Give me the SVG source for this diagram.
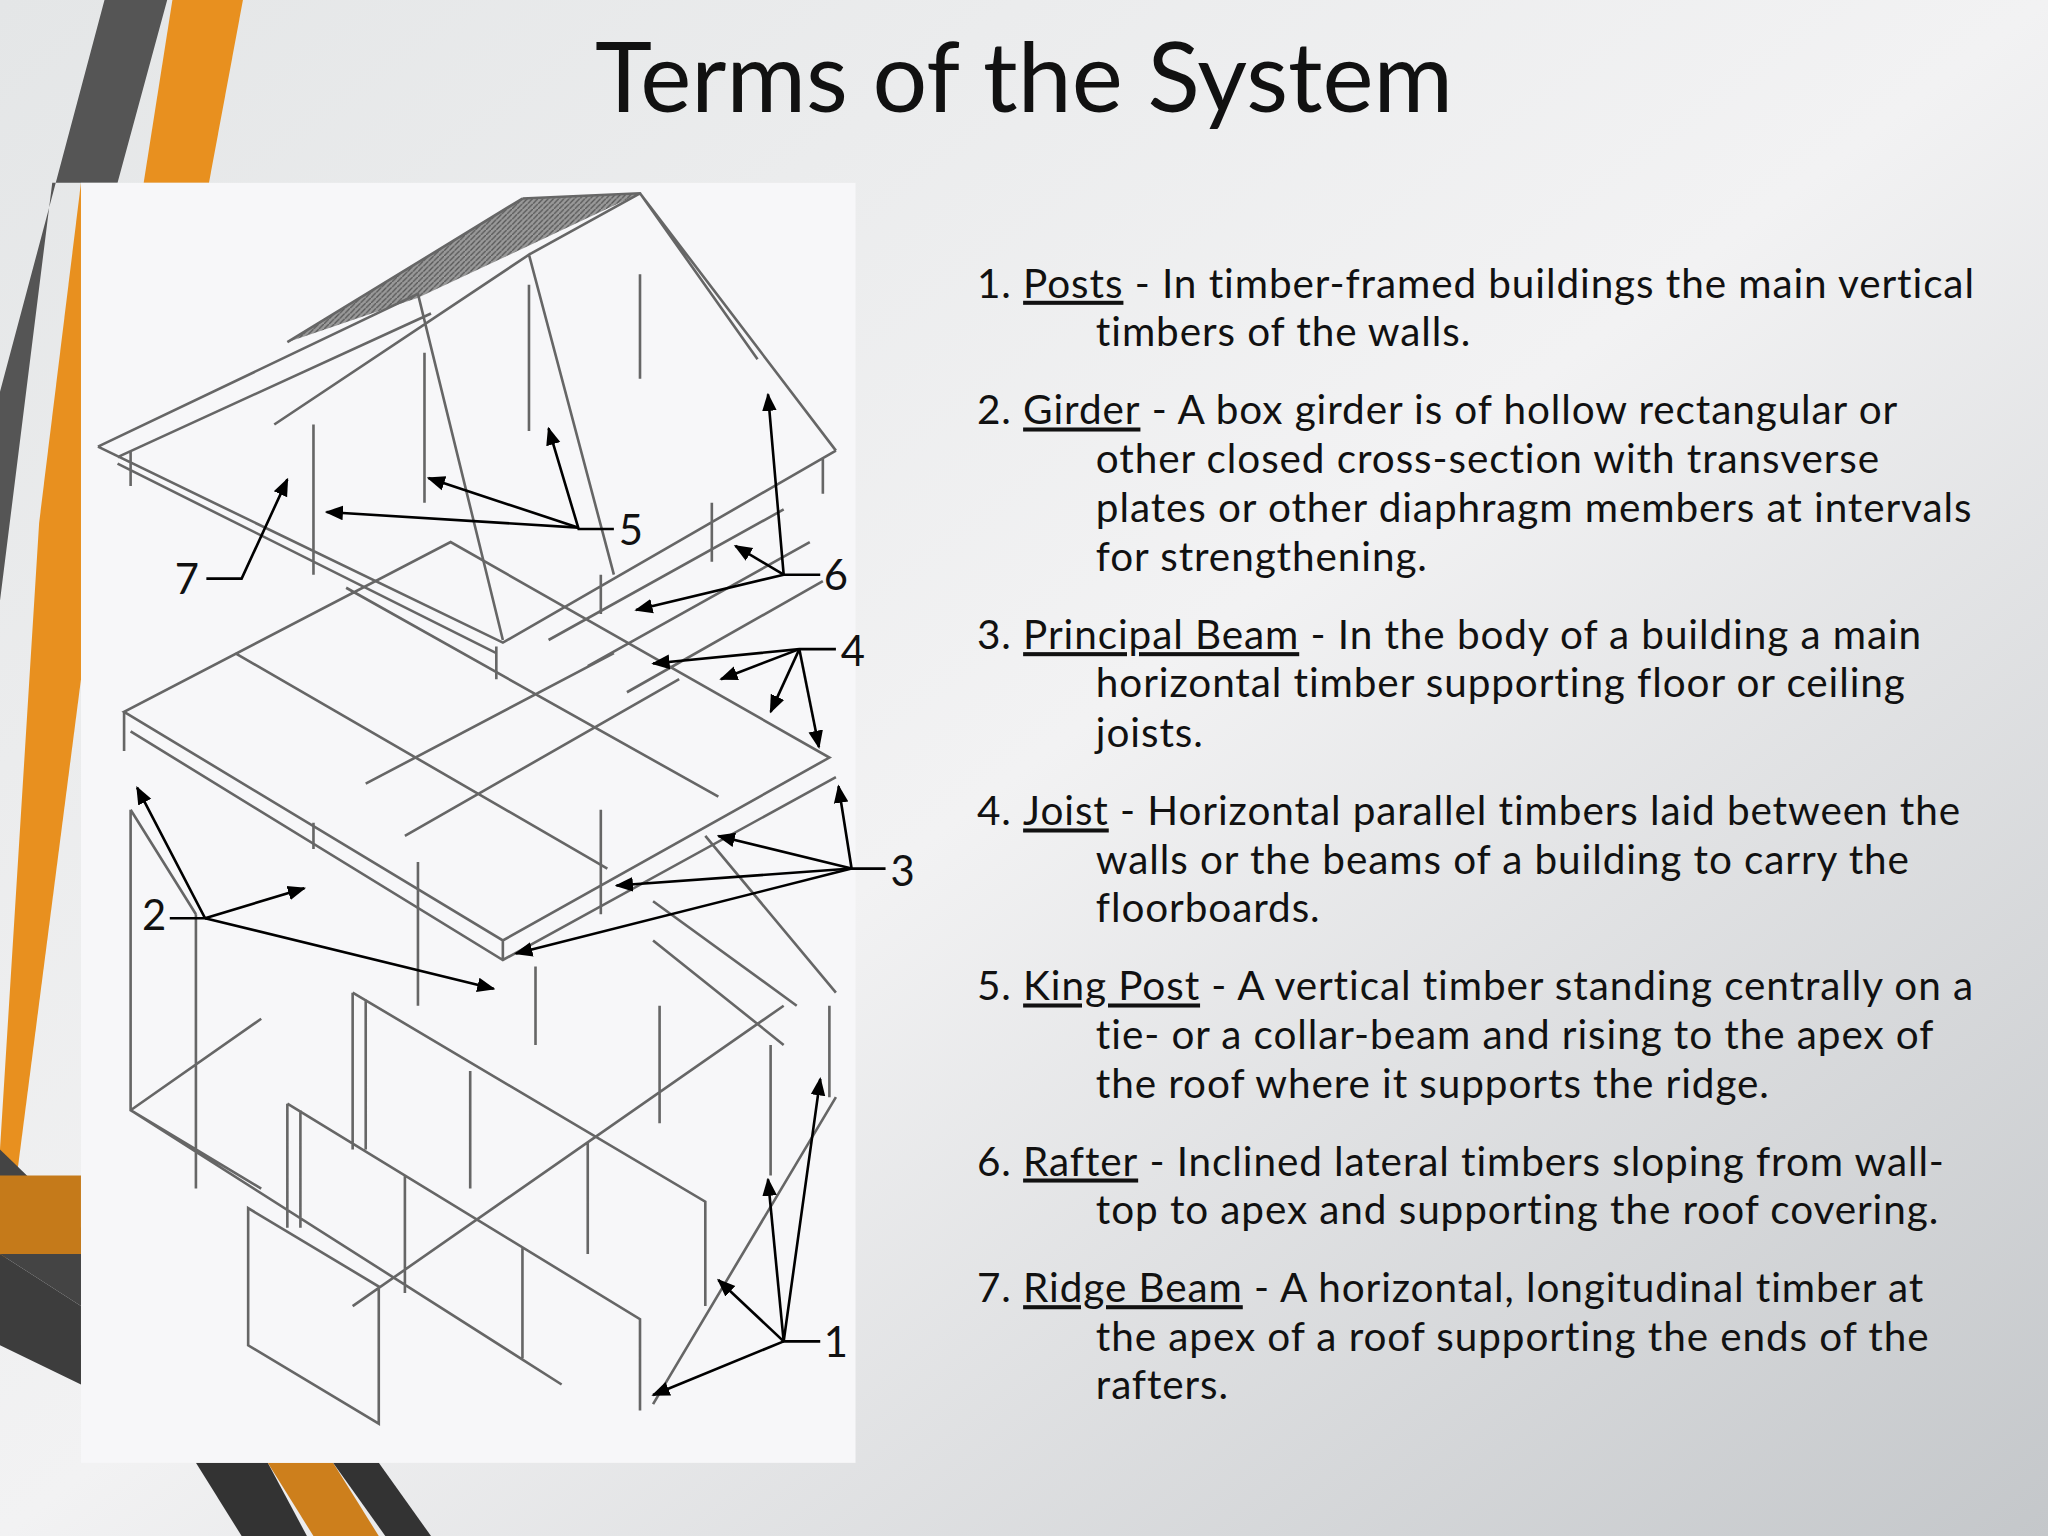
<svg xmlns="http://www.w3.org/2000/svg" width="2048" height="1536" viewBox="0 0 2048 1536">
<defs>
<linearGradient id="bg" x1="0" y1="0" x2="1" y2="1">
<stop offset="0" stop-color="#e4e6e7"/><stop offset="0.5" stop-color="#f2f2f3"/><stop offset="1" stop-color="#c4c7ca"/>
</linearGradient>
<marker id="ah" viewBox="0 0 10 10" refX="9" refY="5" markerWidth="7" markerHeight="7" orient="auto"><path d="M0,1 L10,5 L0,9 z" fill="#000"/></marker>
<pattern id="hatch" width="4" height="4" patternUnits="userSpaceOnUse"><rect width="4" height="4" fill="#999"/><path d="M0,4 L4,0" stroke="#555" stroke-width="1"/></pattern>
</defs>
<style>
.t{font-family:Lato,"Open Sans",sans-serif;font-size:31px;letter-spacing:0.7px;fill:#111}
.n{font-family:Lato,"Open Sans",sans-serif;font-size:32px;fill:#111}
.d{fill:none;stroke:#666;stroke-width:2}
.a{fill:none;stroke:#000;stroke-width:2}
</style>
<rect width="2048" height="1536" fill="url(#bg)"/>
<g transform="scale(1.30612)">
<g id="decor">
<polygon points="80,0 128,0 90,140 40,140 0,460 0,300" fill="#555"/>
<polygon points="132,0 186,0 160,140 110,140" fill="#e8901f"/>
<polygon points="62,140 30,400 0,880 0,1000 62,520" fill="#e8901f"/>
<polygon points="0,880 62,940 62,1000 0,960" fill="#444"/>
<polygon points="0,900 62,900 62,960 0,960" fill="#c57a1a"/>
<polygon points="0,960 62,1000 62,1060 0,1030" fill="#3d3d3d"/>
<polygon points="150,1120 205,1120 235,1176 185,1176" fill="#333"/>
<polygon points="205,1120 255,1120 290,1176 240,1176" fill="#cd7f1c"/>
<polygon points="255,1120 290,1120 330,1176 295,1176" fill="#333"/>
</g>
<text x="784" y="86" text-anchor="middle" font-family="Lato,'Open Sans',sans-serif" font-size="74" fill="#111">Terms of the System</text>
<g id="panel"><rect x="62" y="140" width="593" height="980" fill="#f7f7f9"/></g>
<g id="drawing">
<polygon points="220,262 400,152 490,148 320,228" fill="url(#hatch)"/>
<path class="d" d="M75,342 L320,225 L385,490 M90,350 L330,240 M210,325 L405,195 L470,440 M400,152 L490,148 L640,345 M490,148 L580,275 M75,342 L385,492 L640,345 M90,355 L380,500 M400,152 L220,262 M490,148 L405,195 M100,345 V372 M240,325 V440 M325,270 V385 M405,218 V330 M490,210 V290 M545,385 V430 M630,350 V378 M460,440 V470 M380,495 V520"/>
<path class="d" d="M95,545 L385,720 L635,580 L345,415 Z M100,560 L385,735 L640,595 M180,500 L465,665 M265,450 L550,610 M385,720 V735 M95,545 V575 M280,600 L470,500 M310,640 L520,520 M420,490 L600,390 M450,510 L620,415 M480,530 L630,445"/>
<path class="d" d="M100,620 V850 L200,910 M100,620 L150,700 M150,700 V910 M100,850 L430,1060 M270,760 L540,920 V1000 M270,760 V880 M280,765 V880 M360,820 V910 M450,875 V960 M220,845 L490,1010 V1080 M220,845 V940 M230,850 V940 M310,900 V990 M400,955 V1040 M190,925 L290,985 V1090 L190,1030 Z M540,640 L640,760 M500,690 L610,770 M500,720 L600,800 M410,740 V800 M505,770 V860 M590,800 V900 M635,770 V840 M240,630 V650 M320,660 V770 M460,620 V700 M100,850 L200,780 M270,1000 L600,770 M500,1075 L640,840"/>
</g>
<g id="connectors">
<path class="a" d="M158,443 H185 L220,367" marker-end="url(#ah)"/>
<path class="a" d="M470,405 H443 L420,328" marker-end="url(#ah)"/>
<path class="a" d="M443,404 L328,366" marker-end="url(#ah)"/>
<path class="a" d="M443,404 L250,392" marker-end="url(#ah)"/>
<path class="a" d="M628,440 H600 L588,302" marker-end="url(#ah)"/>
<path class="a" d="M600,440 L563,418" marker-end="url(#ah)"/>
<path class="a" d="M600,440 L487,467" marker-end="url(#ah)"/>
<path class="a" d="M640,497 H612 L500,508" marker-end="url(#ah)"/>
<path class="a" d="M612,497 L552,520" marker-end="url(#ah)"/>
<path class="a" d="M612,497 L590,545" marker-end="url(#ah)"/>
<path class="a" d="M612,497 L627,572" marker-end="url(#ah)"/>
<path class="a" d="M678,665 H652 L642,602" marker-end="url(#ah)"/>
<path class="a" d="M652,665 L550,640" marker-end="url(#ah)"/>
<path class="a" d="M652,665 L472,678" marker-end="url(#ah)"/>
<path class="a" d="M652,665 L395,730" marker-end="url(#ah)"/>
<path class="a" d="M130,703 H157 L105,603" marker-end="url(#ah)"/>
<path class="a" d="M157,703 L233,680" marker-end="url(#ah)"/>
<path class="a" d="M157,703 L378,757" marker-end="url(#ah)"/>
<path class="a" d="M628,1027 H600 L628,826" marker-end="url(#ah)"/>
<path class="a" d="M600,1027 L588,903" marker-end="url(#ah)"/>
<path class="a" d="M600,1027 L550,980" marker-end="url(#ah)"/>
<path class="a" d="M600,1027 L500,1068" marker-end="url(#ah)"/>
</g>
<g id="labels">
<text class="n" x="143" y="455" text-anchor="middle">7</text>
<text class="n" x="483" y="417" text-anchor="middle">5</text>
<text class="n" x="640" y="452" text-anchor="middle">6</text>
<text class="n" x="653" y="510" text-anchor="middle">4</text>
<text class="n" x="691" y="678" text-anchor="middle">3</text>
<text class="n" x="118" y="712" text-anchor="middle">2</text>
<text class="n" x="640" y="1039" text-anchor="middle">1</text>
</g>
<g id="text">
<text class="t" x="748" y="228">1. <tspan text-decoration="underline">Posts</tspan> - In timber-framed buildings the main vertical</text>
<text class="t" x="839" y="265">timbers of the walls.</text>
<text class="t" x="748" y="325">2. <tspan text-decoration="underline">Girder</tspan> - A box girder is of hollow rectangular or</text>
<text class="t" x="839" y="362">other closed cross-section with transverse</text>
<text class="t" x="839" y="400">plates or other diaphragm members at intervals</text>
<text class="t" x="839" y="437">for strengthening.</text>
<text class="t" x="748" y="497">3. <tspan text-decoration="underline">Principal Beam</tspan> - In the body of a building a main</text>
<text class="t" x="839" y="534">horizontal timber supporting floor or ceiling</text>
<text class="t" x="839" y="572">joists.</text>
<text class="t" x="748" y="632">4. <tspan text-decoration="underline">Joist</tspan> - Horizontal parallel timbers laid between the</text>
<text class="t" x="839" y="669">walls or the beams of a building to carry the</text>
<text class="t" x="839" y="706">floorboards.</text>
<text class="t" x="748" y="766">5. <tspan text-decoration="underline">King Post</tspan> - A vertical timber standing centrally on a</text>
<text class="t" x="839" y="803">tie- or a collar-beam and rising to the apex of</text>
<text class="t" x="839" y="841">the roof where it supports the ridge.</text>
<text class="t" x="748" y="900">6. <tspan text-decoration="underline">Rafter</tspan> - Inclined lateral timbers sloping from wall-</text>
<text class="t" x="839" y="937">top to apex and supporting the roof covering.</text>
<text class="t" x="748" y="997">7. <tspan text-decoration="underline">Ridge Beam</tspan> - A horizontal, longitudinal timber at</text>
<text class="t" x="839" y="1034">the apex of a roof supporting the ends of the</text>
<text class="t" x="839" y="1071">rafters.</text>
</g>
</g>
</svg>
